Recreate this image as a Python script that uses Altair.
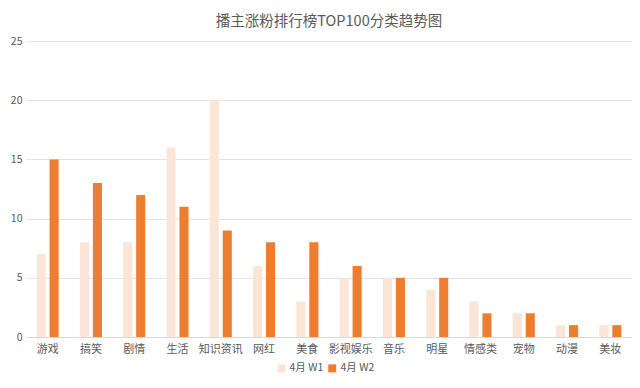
import altair as alt
import pandas as pd

categories = ["游戏", "搞笑", "剧情", "生活", "知识资讯", "网红", "美食", "影视娱乐", "音乐", "明星", "情感类", "宠物", "动漫", "美妆"]
w1 = [7, 8, 8, 16, 20, 6, 3, 5, 5, 4, 3, 2, 1, 1]
w2 = [15, 13, 12, 11, 9, 8, 8, 6, 5, 5, 2, 2, 1, 1]
series = ["4月 W1", "4月 W2"]

rows = []
for c, a, b in zip(categories, w1, w2):
    rows.append({"cat": c, "series": series[0], "v": a})
    rows.append({"cat": c, "series": series[1], "v": b})
df = pd.DataFrame(rows)

FONT = "Noto Sans CJK SC"
GRAY = "#595959"

chart = alt.Chart(df).mark_bar().encode(
    x=alt.X("cat:N", sort=categories, title=None,
            scale=alt.Scale(paddingInner=0.49, paddingOuter=0.245),
            axis=alt.Axis(labelAngle=0, ticks=False, domainColor="#d9d9d9",
                          labelColor=GRAY, labelFontSize=11, labelFont=FONT, labelPadding=6)),
    xOffset=alt.XOffset("series:N", sort=series, scale=alt.Scale(paddingInner=0.3, paddingOuter=0)),
    y=alt.Y("v:Q", title=None, scale=alt.Scale(domain=[0, 25]),
            axis=alt.Axis(values=[0, 5, 10, 15, 20, 25], ticks=False, domain=False,
                          gridColor="#e3e3e3", labelColor=GRAY, labelFontSize=10.5,
                          labelFont=FONT, labelPadding=4)),
    color=alt.Color("series:N", sort=series,
                    scale=alt.Scale(domain=series, range=["#FBE5D6", "#ED7D31"]),
                    legend=alt.Legend(title=None, orient="none", direction="horizontal",
                                      legendX=250, legendY=322, symbolType="square",
                                      symbolSize=64, labelFontSize=10.5, labelColor=GRAY,
                                      labelFont=FONT, columnPadding=3, labelOffset=3,
                                      symbolOffset=0)),
).properties(
    width=606, height=296,
    title=alt.TitleParams("播主涨粉排行榜TOP100分类趋势图", fontSize=14.5, color=GRAY,
                          font=FONT, fontWeight="normal", anchor="middle", offset=7),
    autosize=alt.AutoSizeParams(type="none"),
    padding={"left": 18, "top": 33, "right": 0, "bottom": 40},
).configure_view(stroke=None)

chart.save("out.html", embed_options={"renderer": "svg", "actions": False})
